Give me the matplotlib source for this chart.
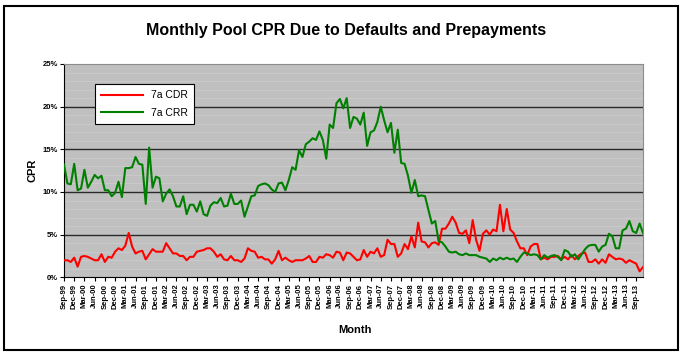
import matplotlib.pyplot as plt
import numpy as np
from matplotlib.patches import Rectangle
from matplotlib.ticker import MultipleLocator, FuncFormatter

plt.rcParams['font.family'] = ['Liberation Sans', 'DejaVu Sans']

# monthly series, Sep-99 .. Nov-13 (in %)
cdr = [2.0, 2.0, 1.8, 2.3, 1.25, 2.4, 2.5, 2.4, 2.2, 2.0,
       2.0, 2.7, 1.8, 2.4, 2.3, 3.0, 3.4, 3.2, 3.7, 5.2,
       3.6, 2.8, 3.0, 3.1, 2.1, 2.7, 3.3, 3.0, 3.0, 3.0,
       4.0, 3.4, 2.8, 2.8, 2.5, 2.5, 2.0, 2.4, 2.4, 3.0,
       3.1, 3.2, 3.4, 3.4, 3.0, 2.4, 2.7, 2.1, 2.0, 2.5,
       2.0, 2.0, 1.8, 2.2, 3.4, 3.1, 3.0, 2.3, 2.4, 2.1,
       2.1, 1.6, 2.1, 3.1, 2.0, 2.3, 2.0, 1.8, 2.0, 2.0,
       2.0, 2.2, 2.5, 1.8, 1.8, 2.4, 2.3, 2.7, 2.6, 2.3,
       3.0, 2.9, 2.0, 2.9, 2.8, 2.4, 2.0, 2.1, 3.2, 2.4,
       3.0, 2.8, 3.4, 2.4, 2.6, 4.4, 3.9, 3.9, 2.4, 2.8,
       3.9, 3.3, 4.8, 3.5, 6.4, 4.2, 4.1, 3.5, 4.0, 4.1,
       3.8, 5.7, 5.7, 6.3, 7.1, 6.4, 5.2, 5.1, 5.5, 4.0,
       6.7, 4.4, 3.1, 5.1, 5.5, 5.0, 5.6, 5.4, 8.5, 5.4,
       8.0, 5.6, 5.2, 4.2, 3.4, 3.4, 2.6, 3.6, 3.9, 3.9,
       2.1, 2.3, 2.1, 2.4, 2.4, 2.5, 2.1, 2.4, 2.1, 2.6,
       2.1, 2.5, 2.8, 2.9, 1.8, 1.8, 2.1, 1.6, 2.1, 1.7,
       2.7, 2.4, 2.1, 2.2, 2.1, 1.7, 2.0, 1.8, 1.6, 0.7,
       1.2]
crr = [13.2, 11.0, 10.9, 13.3, 10.2, 10.4, 12.6, 10.5, 11.2, 12.0,
       11.6, 11.9, 10.2, 10.2, 9.5, 9.9, 11.2, 9.4, 12.8, 12.8,
       12.9, 14.1, 13.3, 13.2, 8.6, 15.2, 10.5, 11.8, 11.6, 8.9,
       9.8, 10.3, 9.5, 8.3, 8.3, 9.5, 7.4, 8.5, 8.5, 7.7,
       8.9, 7.4, 7.2, 8.4, 8.8, 8.7, 9.3, 8.3, 8.4, 9.8,
       8.6, 8.6, 9.0, 7.1, 8.3, 9.5, 9.6, 10.7, 10.9, 11.0,
       10.8, 10.3, 10.0, 11.0, 11.1, 10.2, 11.4, 12.9, 12.6, 14.9,
       14.1, 15.6, 15.9, 16.3, 16.1, 17.1, 16.1, 13.9, 17.9, 17.5,
       20.4, 20.9, 19.8, 21.0, 17.5, 18.8, 18.6, 17.9, 19.3, 15.4,
       17.0, 17.2, 18.2, 20.0, 18.4, 17.0, 18.1, 14.6, 17.3, 13.4,
       13.3, 11.9, 9.9, 11.4, 9.5, 9.6, 9.5, 7.9, 6.3, 6.6,
       4.2, 4.1, 3.6, 3.0, 2.9, 3.0, 2.7, 2.6, 2.8, 2.6,
       2.6, 2.6, 2.4, 2.3, 2.2, 1.8, 2.2, 2.0, 2.3, 2.1,
       2.3, 2.1, 2.2, 1.8, 2.4, 2.9, 2.8, 2.6, 2.7, 2.6,
       2.1, 2.6, 2.3, 2.5, 2.6, 2.4, 2.0, 3.2, 3.0, 2.4,
       2.7, 2.1, 2.7, 3.3, 3.7, 3.8, 3.8, 3.0, 3.6, 3.8,
       5.1, 4.8, 3.4, 3.4, 5.5, 5.7, 6.6, 5.4, 5.2, 6.3,
       5.2]

month_names = ['Jan', 'Feb', 'Mar', 'Apr', 'May', 'Jun',
               'Jul', 'Aug', 'Sep', 'Oct', 'Nov', 'Dec']
labels = []
for k in range(len(cdr)):
    m = (8 + k) % 12
    yr = (1999 + (8 + k) // 12) % 100
    labels.append('%s-%02d' % (month_names[m], yr))

x = np.arange(len(cdr))

fig = plt.figure(figsize=(6.83, 3.57), dpi=100)
ax = fig.add_axes([64/683, 1-277.3/357, 579/683, 213.3/357])
ax.set_facecolor('#c0c0c0')

# light minor stripes every 1%, dark major lines every 5%
for v in range(1, 25):
    if v % 5:
        ax.axhline(v/100, color='#c9c9c9', lw=0.8, zorder=0)
for v in range(5, 25, 5):
    ax.axhline(v/100, color='#2a2a2a', lw=1.0, zorder=1)

ax.plot(x, np.array(cdr)/100, color='#ff0000', lw=1.5, label='7a CDR', zorder=3)
ax.plot(x, np.array(crr)/100, color='#008000', lw=1.5, label='7a CRR', zorder=3)

ax.set_xlim(0, len(cdr)-1)
ax.set_ylim(0, 0.25)
ax.yaxis.set_major_locator(MultipleLocator(0.05))
ax.yaxis.set_major_formatter(FuncFormatter(lambda v, p: '%d%%' % round(v*100)))
tick_pos = x[::3]
ax.set_xticks(tick_pos)
ax.set_xticklabels([labels[i] for i in tick_pos], rotation=90,
                   fontsize=5.5, fontweight='bold')
for t in ax.get_yticklabels():
    t.set_fontsize(5.5)
    t.set_fontweight('bold')
ax.tick_params(axis='both', direction='out', length=3, width=0.8, pad=1.5)

for s in ['top', 'right']:
    ax.spines[s].set_color('#8c8c8c')
for s in ['left', 'bottom']:
    ax.spines[s].set_color('black')

leg = ax.legend(loc='upper left', bbox_to_anchor=(31/579, 1-20/213.3),
                fontsize=7.5, frameon=True, fancybox=False, borderpad=0.6,
                handlelength=4, labelspacing=0.7, borderaxespad=0)
leg.get_frame().set_edgecolor('black')
leg.get_frame().set_facecolor('white')
leg.get_frame().set_alpha(1)
leg.get_frame().set_linewidth(0.8)

fig.text(346/683, 1-30/357, 'Monthly Pool CPR Due to Defaults and Prepayments',
         ha='center', va='center', fontsize=11.5, fontweight='bold')
fig.text(32/683, 1-170/357, 'CPR', ha='center', va='center',
         rotation=90, fontsize=8, fontweight='bold')
fig.text(355/683, 1-330/357, 'Month', ha='center', va='center',
         fontsize=8, fontweight='bold')

fig.patches.append(Rectangle((4/683, 1-350/357), 674/683, 344/357,
                             transform=fig.transFigure, fill=False,
                             edgecolor='black', lw=1.5))

fig.savefig('out.png', dpi=100)
